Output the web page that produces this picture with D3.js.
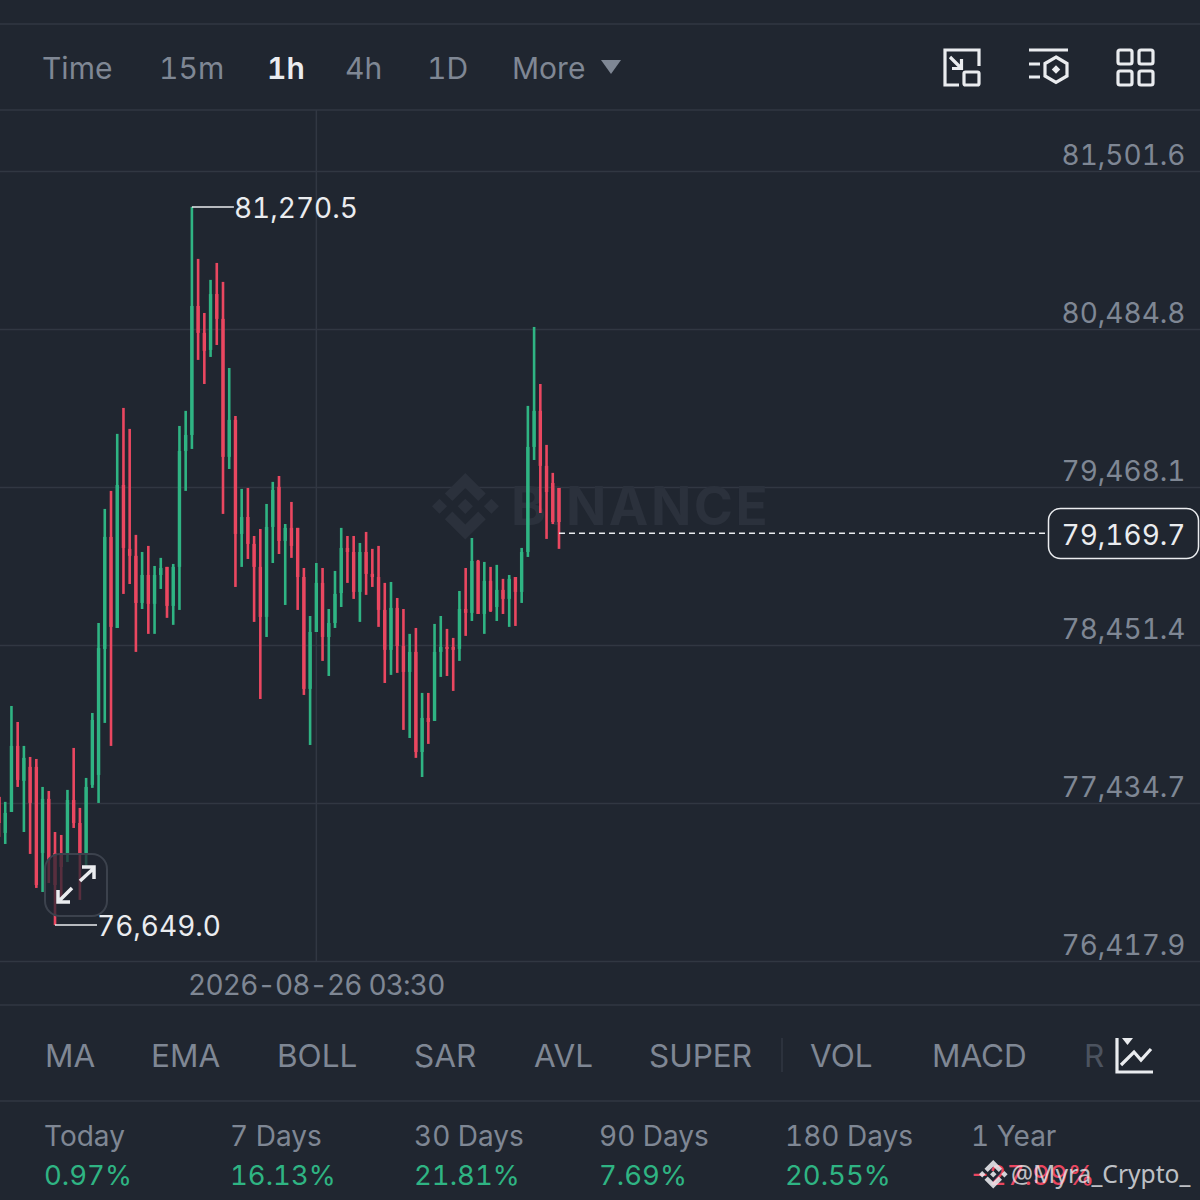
<!DOCTYPE html>
<html>
<head>
<meta charset="utf-8">
<script src="https://cdn.jsdelivr.net/npm/d3@7"></script>
<style>
  html, body { margin: 0; padding: 0; background: #202630; }
  svg { display: block; }
  text { font-family: Inter, Lato, sans-serif; font-variant-numeric: tabular-nums; font-feature-settings: "tnum"; }
</style>
</head>
<body>
<div id="chart"></div>
<script>
// hourly candles
const opens = [77474,77242,77377,77802,77577,77667,77667,77113,77461,77113,77113,77113,77454,77306,77113,77551,77615,78426,79147,78561,
  79481,79070,79025,78722,78902,78716,78902,78954,78703,78954,79700,79803,80633,80460,80350,80710,80550,79662,79900,79166,
  79275,79102,78954,78632,79211,79469,79121,79205,79205,78889,78169,78535,78851,78503,78593,78786,79076,79050,78793,79050,
  78909,78889,78677,78420,78690,78445,78278,78407,77763,77982,77963,78407,78439,78439,78426,78683,78658,78992,78651,78864,
  78696,78806,78748,78889,78793,79050,79726,79958,79604,79494,79462];
const highs = [77474,77442,78059,77956,77802,77731,77718,77538,77512,77248,77229,77519,77789,77403,77596,78014,78593,79327,79443,79810,
  79977,79842,79160,79050,79089,78960,79012,78954,78973,79861,79958,81270.5,80936,80588,80801,80910,80788,80234,79925,79456,
  79462,79153,79198,79359,79501,79539,79230,79372,79205,78947,78638,78979,78947,78683,78928,79205,79153,79153,79108,79179,
  79070,79089,78851,78857,78754,78683,78523,78561,78143,78143,78587,78638,78555,78497,78799,78947,79140,78999,78986,78954,
  78967,78877,78902,78889,79076,79990,80498,80131,79739,79559,79462];
const lows = [77216,77171,77377,77538,77248,77107,76888,76862,76920,76649.0,76830,77055,77274,76811,77023,77532,77435,77950,77802,78561,
  78780,78844,78407,78683,78523,78523,78812,78626,78581,78677,79443,79713,80286,80131,80305,80382,79295,79584,78825,78954,
  79005,78600,78104,78503,78979,79037,78709,79012,78677,78130,77808,78535,78349,78252,78561,78696,78851,78748,78600,78774,
  78825,78568,78207,78259,78272,77905,77853,77725,77602,77815,77963,78246,78252,78156,78349,78510,78606,78651,78523,78664,
  78606,78651,78568,78574,78722,79018,79642,79301,79134,79230,79070];
const closes = [77306,77371,77802,77583,77725,77435,76907,77461,77068,76907,77023,77454,77306,77113,77538,77969,78432,79147,78568,79481,
  79076,79025,78722,78902,78716,78902,78947,78703,78954,79700,79803,80633,80460,80344,80710,80550,79662,79900,79166,79275,
  79102,78954,78632,79211,79449,79121,79205,79089,78889,78169,78535,78851,78503,78593,78780,79076,79050,78793,79050,78909,
  78889,78677,78420,78690,78445,78278,78407,77763,77982,77956,78407,78439,78426,78420,78683,78658,78992,78651,78864,78671,
  78806,78748,78877,78793,79050,79726,79958,79604,79436,79243,79243];

const priceTicks = [81501.6,80484.8,79468.1,78451.4,77434.7,76417.9];
const maxPrice = 81270.5, minPrice = 76649.0, lastPrice = 79169.7;
const crosshairIndex = 51, crosshairLabel = "2026-08-26 03:30";

const intervalTabs = ["Time","15m","1h","4h","1D","More"];
const indicatorTabs = ["MA","EMA","BOLL","SAR","AVL","SUPER","VOL","MACD","R"];
const periodLabels = ["Today","7 Days","30 Days","90 Days","180 Days","1 Year"];
const periodValues = [0.97,16.13,21.81,7.69,20.55,-27.99];

// layout
const tabLeft = [42,159,267,345,427,512];
const indicatorLeft = [45,151,277,414,534,649,810,932,1084];
const periodLeft = [44,230,414,599,785,971];

const bg = "#202630", grid = "#313742", green = "#2fb483", red = "#ea4760", grey = "#7f8794", white = "#eaecef";
const numberSize = "28px";
const binanceLogo = "M38.73 53.2l24.59-24.58 24.6 24.6 14.3-14.31L63.32 0 24.43 38.9l14.3 14.3zM0 63.31L14.3 49l14.31 14.31-14.31 14.3L0 63.31zm38.73 10.11l24.59 24.59 24.6-24.6 14.31 14.29-38.9 38.91-38.91-38.88-.02-.02 14.33-14.29zm59.9-10.11L112.93 49l14.3 14.3-14.3 14.32-14.3-14.31zm-20.8-.01h.01L63.32 48.78 52.6 59.5l-1.23 1.23-2.54 2.54-.02.02.02.03 14.49 14.49 14.5-14.51.01-.01-.01-.01z";

const svg = d3.select("#chart").append("svg").attr("width", 1200).attr("height", 1200);
svg.append("rect").attr("width", 1200).attr("height", 1200).attr("fill", bg);

const x = d3.scaleBand().domain(d3.range(opens.length)).range([-4.1, 562.1]);
const y = d3.scaleLinear().domain([76417.9, 81501.6]).range([961, 171]);
const cx = i => x(i) + x.bandwidth() / 2;

// panel borders
[24, 110, 1005, 1101].forEach(v => {
  svg.append("line").attr("x1", 0).attr("x2", 1200).attr("y1", v).attr("y2", v)
    .attr("stroke", grid).attr("stroke-width", 1.5);
});

// price axis, gridlines come from the tick lines
const yAxis = d3.axisRight(y).tickValues(priceTicks).tickFormat(d3.format(",.1f")).tickSize(1200);
const yg = svg.append("g").call(yAxis);
yg.select(".domain").remove();
yg.selectAll(".tick line").attr("stroke", grid).attr("stroke-width", 1.5);
yg.selectAll(".tick text")
  .attr("x", 1185.5).attr("dy", -6.5).attr("text-anchor", "end")
  .attr("fill", grey).style("font-size", numberSize);

// crosshair
svg.append("line").attr("x1", cx(crosshairIndex)).attr("x2", cx(crosshairIndex)).attr("y1", 110).attr("y2", 961)
  .attr("stroke", grid).attr("stroke-width", 1.5);
svg.append("text").attr("x", cx(crosshairIndex)).attr("y", 995).attr("text-anchor", "middle")
  .attr("fill", grey).style("font-size", numberSize).style("letter-spacing", "-0.8px").text(crosshairLabel);

// watermark
svg.append("path").attr("d", binanceLogo).attr("fill", "#2b313c")
  .attr("transform", "translate(432,473) scale(0.526)");
svg.append("text").attr("x", 511).attr("y", 525).attr("fill", "#2b313c")
  .style("font-size", "53px").style("font-weight", 700).style("letter-spacing", "2.5px").text("BINANCE");

// candles
const candles = svg.append("g").selectAll("g").data(d3.range(opens.length)).join("g")
  .attr("fill", i => closes[i] >= opens[i] ? green : red);
candles.append("rect")
  .attr("x", i => cx(i) - 1.3).attr("width", 2.6)
  .attr("y", i => y(highs[i])).attr("height", i => y(lows[i]) - y(highs[i]));
candles.append("rect")
  .attr("x", i => cx(i) - 1.7).attr("width", 3.4)
  .attr("y", i => y(Math.max(opens[i], closes[i])))
  .attr("height", i => Math.max(1, Math.abs(y(opens[i]) - y(closes[i]))));

// high and low markers
const maxI = highs.indexOf(maxPrice), minI = lows.indexOf(minPrice);
const fmt = d3.format(",.1f");
[[maxI, maxPrice], [minI, minPrice]].forEach(([i, p]) => {
  svg.append("line").attr("x1", cx(i)).attr("x2", cx(i) + 42).attr("y1", y(p)).attr("y2", y(p))
    .attr("stroke", white).attr("stroke-width", 1.5);
  svg.append("text").attr("x", cx(i) + 42).attr("y", y(p) + 11).attr("fill", white)
    .style("font-size", numberSize).text(fmt(p));
});

// last price
svg.append("line").attr("x1", cx(opens.length - 1)).attr("x2", 1048).attr("y1", y(lastPrice)).attr("y2", y(lastPrice))
  .attr("stroke", white).attr("stroke-width", 1.5).attr("stroke-dasharray", "6 4");
svg.append("rect").attr("x", 1048.5).attr("y", 508.5).attr("width", 150).attr("height", 50).attr("rx", 12)
  .attr("fill", bg).attr("stroke", white).attr("stroke-width", 1.5);
svg.append("text").attr("x", 1185.5).attr("y", y(lastPrice) + 12).attr("text-anchor", "end").attr("fill", white)
  .style("font-size", numberSize).text(fmt(lastPrice));

// expand button
const btn = svg.append("g");
btn.append("rect").attr("x", 45).attr("y", 854).attr("width", 62).attr("height", 62).attr("rx", 15)
  .attr("fill", bg).attr("fill-opacity", 0.72).attr("stroke", "#3c424d").attr("stroke-width", 2);
btn.append("path").attr("fill", "none").attr("stroke", white).attr("stroke-width", 3.5)
  .attr("d", "M72 888L58 902M58 890V902H70M80 881L94 868M82 867H94V879");

// interval tabs
svg.selectAll("text.tab").data(intervalTabs).join("text").attr("class", "tab")
  .attr("x", (d, i) => tabLeft[i]).attr("y", 79)
  .attr("fill", d => d === "1h" ? white : grey)
  .style("font-size", "30px").style("font-weight", d => d === "1h" ? 600 : 400).text(d => d);
svg.append("path").attr("d", "M601 60H621L611 74Z").attr("fill", grey);

// toolbar icons
const icons = svg.append("g").attr("fill", "none").attr("stroke", white).attr("stroke-width", 3.2);
icons.append("path").attr("d", "M959 85H945V50H979V66M950 57L961 68M961.5 59V68.5H952");
icons.append("rect").attr("x", 964).attr("y", 72).attr("width", 15).attr("height", 13).attr("rx", 1.5);
icons.append("path").attr("d", "M1029 50H1068M1029 64H1040M1029 77H1040M1056 57L1067 63.5V76L1056 82.5L1045 76V63.5Z");
icons.append("rect").attr("x", 1053).attr("y", 66.5).attr("width", 6).attr("height", 6).attr("fill", white)
  .attr("stroke", "none").attr("transform", "rotate(45 1056 69.5)");
[[1118, 50], [1139, 50], [1118, 71], [1139, 71]].forEach(([a, b]) => {
  icons.append("rect").attr("x", a).attr("y", b).attr("width", 14).attr("height", 14).attr("rx", 2);
});

// indicator tabs
svg.selectAll("text.ind").data(indicatorTabs).join("text").attr("class", "ind")
  .attr("x", (d, i) => indicatorLeft[i]).attr("y", 1067)
  .attr("fill", d => d === "R" ? "#4c535f" : grey)
  .style("font-size", "31.5px").text(d => d);
svg.append("line").attr("x1", 782).attr("x2", 782).attr("y1", 1038).attr("y2", 1072).attr("stroke", grid).attr("stroke-width", 1.5);
icons.append("path").attr("d", "M1117 1038V1072H1153M1121 1065L1134 1052L1141 1060L1151 1049");
svg.append("path").attr("d", "M1122 1038H1133L1127.5 1045Z").attr("fill", white);

// period returns
svg.selectAll("text.plabel").data(periodLabels).join("text").attr("class", "plabel")
  .attr("x", (d, i) => periodLeft[i]).attr("y", 1146)
  .attr("fill", grey).style("font-size", "28px").text(d => d);
svg.selectAll("text.pval").data(periodValues).join("text").attr("class", "pval")
  .attr("x", (d, i) => periodLeft[i]).attr("y", 1185)
  .attr("fill", d => d >= 0 ? green : red).style("font-size", "27.5px").text(d => d3.format(".2f")(d) + "%");

// user watermark
svg.append("path").attr("d", binanceLogo).attr("fill", white).attr("fill-opacity", 0.88)
  .attr("transform", "translate(979,1160) scale(0.225)");
svg.append("text").attr("x", 1011).attr("y", 1183).attr("fill", white).attr("fill-opacity", 0.8)
  .style("font-family", "'Noto Sans', sans-serif").style("font-size", "24.6px").text("@Myra_Crypto_");
</script>
</body>
</html>
